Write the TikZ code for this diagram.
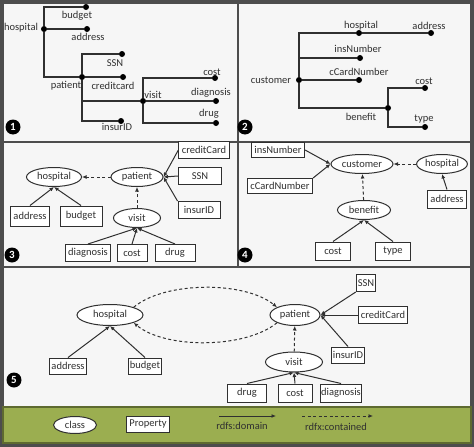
\documentclass[tikz,border=0pt]{standalone}
\usepackage{fontspec}
\setmainfont{Carlito}
\usepackage{tikz}
\usetikzlibrary{arrows.meta,shapes.geometric}
\definecolor{ink}{HTML}{303030}
\definecolor{frame}{HTML}{4D4D4D}
\definecolor{paper}{HTML}{F6F6F6}
\definecolor{olive}{HTML}{9BAE50}
\definecolor{oliveedge}{HTML}{5E6A30}
\tikzset{
  panel/.style={draw=frame, fill=paper, line width=1.2pt},
  tree/.style={draw=ink, line width=1.2pt},
  dot/.style={circle, fill=black, inner sep=0pt, minimum size=6pt},
  lab/.style={text=ink, font=\fontsize{10.5}{12}\selectfont},
  cls/.style={ellipse, draw=ink, fill=white, line width=1pt, inner sep=1pt, minimum height=19pt, text=ink, font=\fontsize{10.5}{12}\selectfont},
  prop/.style={rectangle, draw=ink, fill=white, line width=1pt, inner xsep=3pt, inner ysep=1pt, minimum height=17pt, text=ink, font=\fontsize{10.5}{12}\selectfont},
  dom/.style={draw=ink, line width=1pt, -{Latex[length=4.5pt,width=4pt]}},
  cont/.style={dom, dash pattern=on 3pt off 2.5pt},
  badge/.style={circle, fill=black, text=white, inner sep=0pt, minimum size=15pt, font=\bfseries\fontsize{11}{11}\selectfont},
}

\begin{document}
\begin{tikzpicture}[x=1pt,y=-1pt]
\useasboundingbox (0,0) rectangle (474,447);
\fill[frame] (0,0) rectangle (474,447);
\draw[panel] (3,3) rectangle (238,142);
\draw[panel] (238,3) rectangle (471,142);
\draw[panel] (3,142) rectangle (238,267);
\draw[panel] (238,142) rectangle (471,267);
\draw[panel] (3,267) rectangle (471,407);
\draw[draw=oliveedge, fill=olive, line width=1.2pt] (3,407) rectangle (471,443);

% panel 1: nested tree
\node[dot] (hosp1) at (44,29) {};
\node[dot] (bud1) at (86,7) {};
\node[dot] (addr1) at (87,29) {};
\node[dot] (pat1) at (82,77) {};
\node[dot] (ssn1) at (122,54) {};
\node[dot] (cc1) at (123,77) {};
\node[dot] (vis1) at (143,101) {};
\node[dot] (ins1) at (121,121) {};
\node[dot] (cost1) at (215,78) {};
\node[dot] (diag1) at (216,101) {};
\node[dot] (drug1) at (216,123) {};
\draw[tree] (hosp1) |- (bud1);
\draw[tree] (hosp1) -- (addr1);
\draw[tree] (hosp1) |- (pat1);
\draw[tree] (pat1) |- (ssn1);
\draw[tree] (pat1) -- (cc1);
\draw[tree] (pat1) |- (vis1);
\draw[tree] (pat1) |- (ins1);
\draw[tree] (vis1) |- (cost1);
\draw[tree] (vis1) -- (diag1);
\draw[tree] (vis1) |- (drug1);
\node[lab] (hosp1l) at (21,28) {hospital};
\node[lab] (bud1l) at (77,16) {budget};
\node[lab] (addr1l) at (88,37) {address};
\node[lab] (pat1l) at (66,86) {patient};
\node[lab] (ssn1l) at (115,63) {SSN};
\node[lab] (cc1l) at (113,86) {creditcard};
\node[lab] (vis1l) at (153,95) {visit};
\node[lab] (ins1l) at (117,127) {insurID};
\node[lab] (cost1l) at (212,72) {cost};
\node[lab] (diag1l) at (211,93) {diagnosis};
\node[lab] (drug1l) at (209,114) {drug};
\node[badge] (b1) at (13,127) {1};

% panel 2: nested tree
\node[dot] (cust2) at (299,80) {};
\node[dot] (hosp2) at (359,33) {};
\node[dot] (addr2) at (431,33) {};
\node[dot] (ins2) at (360,58) {};
\node[dot] (cc2) at (359,80) {};
\node[dot] (ben2) at (388,108) {};
\node[dot] (cost2) at (425,88) {};
\node[dot] (type2) at (425,127) {};
\draw[tree] (cust2) |- (hosp2);
\draw[tree] (hosp2) -- (addr2);
\draw[tree] (cust2) |- (ins2);
\draw[tree] (cust2) -- (cc2);
\draw[tree] (cust2) |- (ben2);
\draw[tree] (ben2) |- (cost2);
\draw[tree] (ben2) |- (type2);
\node[lab] (cust2l) at (271,80) {customer};
\node[lab] (hosp2l) at (361,26) {hospital};
\node[lab] (addr2l) at (429,26) {address};
\node[lab] (ins2l) at (358,49) {insNumber};
\node[lab] (cc2l) at (359,72) {cCardNumber};
\node[lab] (ben2l) at (361,117) {benefit};
\node[lab] (cost2l) at (424,81) {cost};
\node[lab] (type2l) at (424,119) {type};
\node[badge] (b2) at (245,127) {2};

% panel 3: graph
\node[cls, minimum width=55pt] (hosp3) at (54,177) {hospital};
\node[cls, minimum width=52pt] (pat3) at (137,177) {patient};
\node[cls, minimum width=47pt] (vis3) at (137,218) {visit};
\node[prop] (cc3) at (204,150) {creditCard};
\node[prop, minimum width=43pt] (ssn3) at (200,176) {SSN};
\node[prop, minimum width=42pt] (ins3) at (199,210) {insurID};
\node[prop, minimum height=20pt] (addr3) at (30,216) {address};
\node[prop, minimum height=20pt, minimum width=42pt] (bud3) at (81,216) {budget};
\node[prop] (diag3) at (88,253) {diagnosis};
\node[prop, minimum width=30pt] (cost3) at (132,253) {cost};
\node[prop, minimum width=40pt] (drug3) at (175,253) {drug};
\draw[cont] (pat3) -- (hosp3);
\draw[cont] (vis3) -- (pat3);
\draw[dom] (cc3.west) -- (pat3.east);
\draw[dom] (ssn3.west) -- (pat3.east);
\draw[dom] (ins3.north west) -- (pat3.east);
\draw[dom] (addr3.north) -- (hosp3.south);
\draw[dom] (bud3.north) -- (hosp3.south);
\draw[dom] (diag3.north) -- (vis3.south);
\draw[dom] (cost3.north) -- (vis3.south);
\draw[dom] (drug3.north) -- (vis3.south);
\node[badge] (b3) at (12,255) {3};

% panel 4: graph
\node[cls, minimum width=62pt] (cust4) at (362,164) {customer};
\node[cls, minimum width=47pt] (hosp4) at (442,164) {hospital};
\node[cls, minimum width=53pt] (ben4) at (364,210) {benefit};
\node[prop, minimum height=15pt] (ins4) at (278,150) {insNumber};
\node[prop, minimum height=15pt] (cc4) at (280,186) {cCardNumber};
\node[prop, minimum height=18pt] (addr4) at (447,199) {address};
\node[prop, minimum height=18pt, minimum width=35pt] (cost4) at (333,251) {cost};
\node[prop, minimum height=18pt, minimum width=35pt] (type4) at (393,251) {type};
\draw[cont] (hosp4) -- (cust4);
\draw[cont] (ben4) -- (cust4);
\draw[dom] (ins4.east) -- (cust4.west);
\draw[dom] (cc4.north east) -- (cust4.west);
\draw[dom] (addr4.north) -- (hosp4.south);
\draw[dom] (cost4.north) -- (ben4.south);
\draw[dom] (type4.north) -- (ben4.south);
\node[badge] (b4) at (245,255) {4};

% panel 5: merged graph
\node[cls, minimum width=66pt, minimum height=21pt] (hosp5) at (110,315) {hospital};
\node[cls, minimum width=50pt, minimum height=21pt] (pat5) at (295,315) {patient};
\node[cls, minimum width=57pt, minimum height=20pt] (vis5) at (294,362) {visit};
\node[prop, inner xsep=1.5pt] (ssn5) at (366,283) {SSN};
\node[prop, inner xsep=2pt] (cc5) at (383,315) {creditCard};
\node[prop, inner xsep=1pt, minimum height=16pt] (ins5) at (348,355) {insurID};
\node[prop, inner xsep=2pt, minimum height=16pt] (addr5) at (68,366) {address};
\node[prop, inner xsep=1pt, minimum height=16pt] (bud5) at (145,366) {budget};
\node[prop, minimum width=39pt, minimum height=18pt] (drug5) at (247,393) {drug};
\node[prop, minimum width=34pt, minimum height=18pt] (cost5) at (295,393) {cost};
\node[prop, inner xsep=1pt, minimum height=18pt] (diag5) at (341,393) {diagnosis};
\draw[cont] (hosp5.north east) .. controls (165,281) and (245,281) .. (pat5.north west);
\draw[cont] (pat5.south west) .. controls (245,349) and (165,349) .. (hosp5.south east);
\draw[cont] (vis5) -- (pat5);
\draw[dom] (ssn5.south west) -- (pat5.east);
\draw[dom] (cc5.west) -- (pat5.east);
\draw[dom] (ins5.north) -- (pat5.east);
\draw[dom] (addr5.north) -- (hosp5.south);
\draw[dom] (bud5.north) -- (hosp5.south);
\draw[dom] (drug5.north) -- (vis5.south);
\draw[dom] (cost5.north) -- (vis5.south);
\draw[dom] (diag5.north) -- (vis5.south);
\node[badge] (b5) at (14,380) {5};

% legend
\node[cls, minimum width=43pt, minimum height=17pt] (clsKey) at (75,425) {class};
\node[prop, minimum height=16pt] (propKey) at (148,424) {Property};
\coordinate (domA) at (219,416);
\coordinate (domB) at (276,416);
\coordinate (contA) at (302,416);
\coordinate (contB) at (373,416);
\draw[dom] (domA) -- (domB);
\draw[cont] (contA) -- (contB);
\node[lab] (domKey) at (242,426) {rdfs:domain};
\node[lab] (contKey) at (336,427) {rdfx:contained};
\end{tikzpicture}
\end{document}
